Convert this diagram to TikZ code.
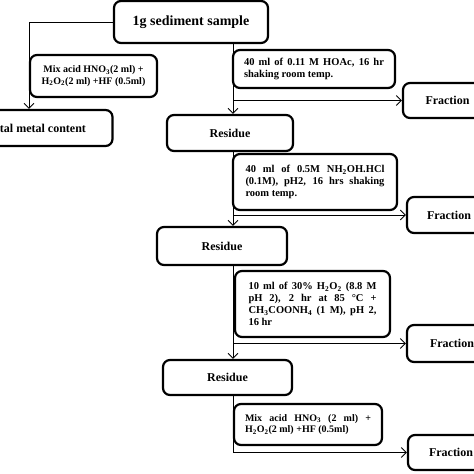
\documentclass[tikz,border=0pt]{standalone}
\usepackage{fontspec}
\setmainfont{Liberation Serif}
\usetikzlibrary{arrows.meta}

\begin{document}
\begin{tikzpicture}[x=1pt,y=-1pt,>={Straight Barb[length=5pt,width=10pt]},
  line width=0.9pt,
  box/.style={draw,line width=2.2pt,rounded corners=7pt,fill=white,inner sep=2pt,
    font=\bfseries\fontsize{12}{14}\selectfont},
  stepbox/.style={box,align=justify,font=\bfseries\fontsize{10.5}{12}\selectfont},
  mixbox/.style={stepbox,font=\bfseries\fontsize{10}{11.2}\selectfont}]
  \useasboundingbox (0,0) rectangle (474,474);
  \clip (0,0) rectangle (474,474);

  \node[box,minimum width=154pt,minimum height=42pt,font=\bfseries\fontsize{14}{16}\selectfont]
    (sample) at (191,22) {1g sediment sample};
  \node[box,minimum width=152pt,minimum height=36pt] (total) at (36.5,128) {Total metal content};
  \node[mixbox,align=center,minimum width=127pt,minimum height=42pt] (mix1) at (93.5,76)
    {Mix acid HNO\textsubscript{3}(2 ml) +\\H\textsubscript{2}O\textsubscript{2}(2 ml) +HF (0.5ml)};

  \node[stepbox,text width=140pt,minimum width=162pt,minimum height=38pt] (proc1) at (314,69)
    {40 ml of 0.11 M HOAc, 16 hr\linebreak shaking room temp.};
  \node[box,minimum width=89pt,minimum height=35pt] (frac1) at (447.5,100.5) {Fraction};
  \node[box,minimum width=126pt,minimum height=36pt] (res1) at (230,133) {Residue};

  \node[stepbox,text width=139pt,minimum width=164pt,minimum height=56pt] (proc2) at (315,182)
    {40 ml of 0.5M NH\textsubscript{2}OH.HCl\linebreak (0.1M), pH2, 16 hrs shaking\linebreak room temp.};
  \node[box,minimum width=84pt,minimum height=36pt] (frac2) at (449,215) {Fraction};
  \node[box,minimum width=130pt,minimum height=38pt] (res2) at (222,246) {Residue};

  \node[stepbox,text width=128pt,minimum width=155pt,minimum height=66pt] (proc3) at (312.5,304)
    {10 ml of 30\% H\textsubscript{2}O\textsubscript{2} (8.8 M\linebreak pH 2), 2 hr at 85 °C +\linebreak
     CH\textsubscript{3}COONH\textsubscript{4} (1 M), pH 2,\linebreak 16 hr};
  \node[box,minimum width=90pt,minimum height=37pt] (frac3) at (452,343.5) {Fraction};
  \node[box,minimum width=129pt,minimum height=35pt] (res3) at (227.5,377.5) {Residue};

  \node[mixbox,text width=126pt,minimum width=148pt,minimum height=41pt] (proc4) at (308,424.5)
    {Mix acid HNO\textsubscript{3} (2 ml) +\linebreak H\textsubscript{2}O\textsubscript{2}(2 ml) +HF (0.5ml)};
  \node[box,minimum width=86pt,minimum height=35pt] (frac4) at (451,452.5) {Fraction};

  \coordinate (lft) at (29,0);
  \coordinate (spine) at (233,0);
  \draw[->] (sample.west) -| (lft |- total.north);
  \draw[->] (sample.south -| spine) -- (res1.north -| spine);
  \draw[->] (spine |- frac1.west) -- (frac1.west);
  \draw[->] (res1.south -| spine) -- (res2.north -| spine);
  \draw[->] (spine |- frac2.west) -- (frac2.west);
  \draw[->] (res2.south -| spine) -- (res3.north -| spine);
  \draw[->] (spine |- frac3.west) -- (frac3.west);
  \draw[->] (res3.south -| spine) |- (frac4.west);
\end{tikzpicture}
\end{document}
